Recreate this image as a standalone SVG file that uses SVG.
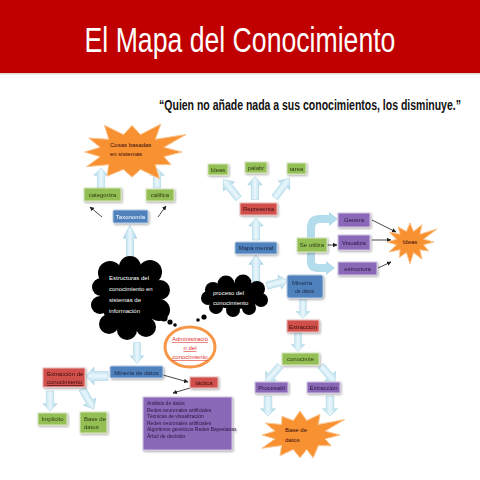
<svg xmlns="http://www.w3.org/2000/svg" xmlns:xlink="http://www.w3.org/1999/xlink" width="480" height="480" viewBox="0 0 480 480">
<defs>
<style>
text{font-family:"Liberation Sans",Arial,sans-serif;font-size:6px}
.c{text-anchor:middle}
.g{fill:#93bf55;stroke:#d7e6bf;stroke-width:1}
.b{fill:#4f81bd;stroke:#b9cde5;stroke-width:1}
.r{fill:#d0504c;stroke:#eab9b8;stroke-width:1}
.p{fill:#8a68b8;stroke:#d3c7e3;stroke-width:1}
.tg{fill:#2e3d12}
.tb{fill:#ffffff}
.td{fill:#1b2a48}
.tr{fill:#3a0d0c}
.tp{fill:#2a1640}
.tw{fill:#ffffff}
.star{fill:#f79132;stroke:#fbc58f;stroke-width:1}
.ln{stroke:#333;stroke-width:0.9;fill:none;marker-end:url(#ah)}
.blk{fill:url(#bg);stroke:#a9d3e3;stroke-width:0.6}
.cloud{fill:#000}
</style>
<linearGradient id="bg" x1="0" y1="0" x2="1" y2="0">
<stop offset="0" stop-color="#a8d5e6"/>
<stop offset="0.5" stop-color="#eaf7fc"/>
<stop offset="1" stop-color="#a8d5e6"/>
</linearGradient>
<filter id="sh" x="-20%" y="-20%" width="150%" height="160%">
<feDropShadow dx="1" dy="1.2" stdDeviation="0.8" flood-color="#000" flood-opacity="0.35"/>
</filter>
<marker id="ah" viewBox="0 0 10 10" refX="9" refY="5" markerWidth="5" markerHeight="5" orient="auto">
<path d="M0,0 L10,5 L0,10 Z" fill="#222"/>
</marker>
<path id="ua" d="M -4,11 L -4,-3 L -8,-3 L 0,-11 L 8,-3 L 4,-3 L 4,11 Z"/>
</defs>
<rect width="480" height="480" fill="#ffffff"/>
<g id="header">
<rect x="0" y="0" width="480" height="73" fill="#c00000"/>
<rect x="0" y="73" width="480" height="1.5" fill="#d9d9d9"/>
<g transform="translate(240,52) scale(0.74,1)">
<text x="0" y="0" class="c" style="font-size:36px;fill:#fff">El Mapa del Conocimiento</text>
</g>
</g>
<g id="quote">
<g transform="translate(310,110) scale(0.75,1)">
<text x="0" y="0" class="c" style="font-size:14px;font-weight:bold;fill:#111">“Quien no añade nada a sus conocimientos, los disminuye.”</text>
</g>
</g>
<g id="connectors">
<use xlink:href="#ua" class="blk" transform="translate(101,178) scale(0.9,0.9)"/>
<use xlink:href="#ua" class="blk" transform="translate(157,178) scale(0.9,0.9)"/>
<use xlink:href="#ua" class="blk" transform="translate(130,243) scale(0.85,1.6)"/>
<use xlink:href="#ua" class="blk" transform="translate(137,353) rotate(180) scale(0.85,0.95)"/>
<use xlink:href="#ua" class="blk" transform="translate(97,376) rotate(-90) scale(1.1,1)"/>
<use xlink:href="#ua" class="blk" transform="translate(50,401) rotate(180) scale(0.9,0.9)"/>
<use xlink:href="#ua" class="blk" transform="translate(88,399) rotate(150) scale(0.9,1.05)"/>
<use xlink:href="#ua" class="blk" transform="translate(231,189) rotate(-39) scale(0.9,1.1)"/>
<use xlink:href="#ua" class="blk" transform="translate(255,188) scale(0.9,1.05)"/>
<use xlink:href="#ua" class="blk" transform="translate(282,188) rotate(37) scale(0.9,1.1)"/>
<use xlink:href="#ua" class="blk" transform="translate(256,229) scale(0.9,1.0)"/>
<use xlink:href="#ua" class="blk" transform="translate(256,268) scale(0.9,1.2)"/>
<use xlink:href="#ua" class="blk" transform="translate(277,283) rotate(75) scale(0.9,0.95)"/>
<use xlink:href="#ua" class="blk" transform="translate(303,309) rotate(180) scale(0.85,0.85)"/>
<use xlink:href="#ua" class="blk" transform="translate(298,342) rotate(180) scale(0.85,0.85)"/>
<use xlink:href="#ua" class="blk" transform="translate(273,374) rotate(-139) scale(0.9,1.0)"/>
<use xlink:href="#ua" class="blk" transform="translate(328,374) rotate(139) scale(0.9,1.0)"/>
<use xlink:href="#ua" class="blk" transform="translate(268,406) rotate(180) scale(0.95,0.9)"/>
<use xlink:href="#ua" class="blk" transform="translate(330,406) rotate(180) scale(0.95,0.9)"/>
<path d="M 311 238 L 311 228 Q 311 219 320 219 L 329 219" fill="none" stroke="#b3dcec" stroke-width="8"/>
<path d="M 329 212 L 338 219 L 329 226 Z" fill="#b3dcec"/>
<path d="M 311 252 L 311 261 Q 311 268 318 268 L 326 268" fill="none" stroke="#b3dcec" stroke-width="8"/>
<path d="M 326 261 L 335 268 L 326 275 Z" fill="#b3dcec"/>
<line class="ln" x1="102" y1="217" x2="90" y2="207"/>
<line class="ln" x1="158" y1="217" x2="166" y2="206"/>
<line class="ln" x1="163" y1="375" x2="188" y2="382"/>
<line class="ln" x1="190" y1="388" x2="173" y2="393"/>
<line class="ln" x1="327" y1="245" x2="337" y2="245"/>
<line class="ln" x1="372" y1="220" x2="396" y2="232"/>
<line class="ln" x1="372" y1="240" x2="391" y2="240"/>
<line class="ln" x1="378" y1="268" x2="391" y2="262"/>
</g>
<g id="n-cosas">
<polygon class="star" points="182,152 163.9,156.7 171,164.6 155.3,164.7 159.5,178.7 140.5,169.4 132,177.2 123.5,169.4 107,176.2 108.7,164.7 86.5,166.7 100.1,156.7 84.5,152 100.1,147.3 88.7,138 108.7,139.3 104.5,125.3 123.5,134.6 132,125.4 140.5,134.6 160.8,124.1 155.3,139.3 186.1,134.5 163.9,147.3"/>
<text x="110" y="147" class="tr">Cosas basadas</text>
<text x="110" y="156" class="tr">en sistemas</text>
</g>
<g id="n-categoriza" filter="url(#sh)"><rect class="g" x="84" y="188" width="37" height="13"/><text x="102.5" y="197" class="c tg">categoriza</text></g>
<g id="n-califica" filter="url(#sh)"><rect class="g" x="146" y="189" width="28" height="12"/><text x="160" y="197" class="c tg">califica</text></g>
<g id="n-taxonomia" filter="url(#sh)"><rect class="b" x="113" y="210" width="35" height="13" rx="1.5"/><text x="130.5" y="218.5" class="c tb">Taxonomía</text></g>
<g id="n-estructuras">
<g class="cloud">
<ellipse cx="130" cy="298" rx="30" ry="32"/>
<circle cx="110" cy="273" r="12"/><circle cx="130" cy="267" r="11"/><circle cx="150" cy="272" r="12"/>
<circle cx="160" cy="290" r="10"/><circle cx="159" cy="310" r="11"/><circle cx="146" cy="327" r="10"/>
<circle cx="127" cy="330" r="10"/><circle cx="109" cy="324" r="10"/><circle cx="100" cy="305" r="9"/><circle cx="101" cy="287" r="9"/>
<circle cx="164" cy="318" r="3.6"/><circle cx="170" cy="322" r="2.6"/><circle cx="175" cy="325" r="1.8"/>
</g>
<text x="109" y="280" class="tw">Estructuras del</text>
<text x="109" y="291" class="tw">conocimiento en</text>
<text x="109" y="302" class="tw">sistemas de</text>
<text x="109" y="313" class="tw">información</text>
</g>
<g id="n-minleft" filter="url(#sh)"><rect class="b" x="110" y="366" width="53" height="12" rx="1.5"/><text x="136.5" y="374.5" class="c td">Minería de datos</text></g>
<g id="n-extraccion-con" filter="url(#sh)"><rect class="r" x="43" y="368" width="42" height="19"/><text x="47" y="376" class="tr">Extracción de</text><text x="47" y="384" class="tr" text-decoration="underline">conocimiento</text></g>
<g id="n-implicito" filter="url(#sh)"><rect class="g" x="38" y="413" width="29" height="12"/><text x="52.5" y="421" class="c tg">Implicito</text></g>
<g id="n-basedatos-l" filter="url(#sh)"><rect class="g" x="80" y="412" width="27" height="21"/><text x="84" y="421" class="tg">Base de</text><text x="84" y="429" class="tg">datos</text></g>
<g id="n-admin">
<ellipse cx="190" cy="347" rx="25" ry="20" fill="#fff" stroke="#f79646" stroke-width="3"/>
<text x="190" y="341" class="c" style="fill:#e0332c" text-decoration="underline">Administració</text>
<text x="190" y="350" class="c" style="fill:#e0332c" text-decoration="underline">n del</text>
<text x="190" y="359" class="c" style="fill:#e0332c" text-decoration="underline">conocimiento</text>
</g>
<g id="n-tactica" filter="url(#sh)"><rect class="r" x="190" y="377" width="28" height="11"/><text x="204" y="385" class="c tr">táctica</text></g>
<g id="n-tecnicas" filter="url(#sh)">
<rect class="p" x="143" y="397" width="89" height="53"/>
<text x="147" y="405" class="tp" style="font-size:5px">Análisis de datos</text>
<text x="147" y="411.5" class="tp" style="font-size:5px">Redes neuronales artificiales</text>
<text x="147" y="418" class="tp" style="font-size:5px">Técnicas de visualización</text>
<text x="147" y="424.5" class="tp" style="font-size:5px">Redes neuronales artificiales</text>
<text x="147" y="431" class="tp" style="font-size:5px">Algoritmos genéticos  Redes Bayesianas</text>
<text x="147" y="437.5" class="tp" style="font-size:5px">Árbol de decisión</text>
</g>
<g id="n-ideas-box" filter="url(#sh)"><rect class="g" x="208" y="164" width="20" height="11"/><text x="218" y="171.5" class="c tg">Ideas</text></g>
<g id="n-palabr" filter="url(#sh)"><rect class="g" x="245" y="162" width="22" height="11"/><text x="256" y="169.5" class="c tg">palabr</text></g>
<g id="n-tarea" filter="url(#sh)"><rect class="g" x="287" y="163" width="19" height="11"/><text x="296.5" y="170.5" class="c tg">tarea</text></g>
<g id="n-representa" filter="url(#sh)"><rect class="r" x="240" y="203" width="37" height="12"/><text x="258.5" y="211" class="c tr">Representa</text></g>
<g id="n-mapa" filter="url(#sh)"><rect class="b" x="235" y="242" width="42" height="12" rx="1.5"/><text x="256" y="250" class="c td">Mapa mental</text></g>
<g id="n-proceso">
<g class="cloud">
<ellipse cx="235" cy="296" rx="27" ry="13"/>
<circle cx="213" cy="290" r="8"/><circle cx="226" cy="284" r="8.5"/><circle cx="243" cy="283" r="8.5"/>
<circle cx="257" cy="289" r="8"/><circle cx="261" cy="300" r="7"/><circle cx="249" cy="308" r="7"/>
<circle cx="233" cy="310" r="7"/><circle cx="216" cy="307" r="7"/><circle cx="208" cy="298" r="7"/>
<circle cx="204" cy="317" r="2.6"/><circle cx="198" cy="320" r="1.8"/>
</g>
<text x="213" y="295" class="tw">proceso del</text>
<text x="213" y="305" class="tw">conocimiento</text>
</g>
<g id="n-seutiliza" filter="url(#sh)"><rect class="g" x="297" y="238" width="30" height="14"/><text x="312" y="247" class="c tg">Se utiliza</text></g>
<g id="n-genera" filter="url(#sh)"><rect class="p" x="338" y="213" width="32" height="14"/><text x="354" y="222" class="c tp">Genera</text></g>
<g id="n-visualiza" filter="url(#sh)"><rect class="p" x="338" y="235" width="32" height="15"/><text x="354" y="244.5" class="c tp">Visualiza</text></g>
<g id="n-estructura" filter="url(#sh)"><rect class="p" x="338" y="262" width="39" height="13"/><text x="357.5" y="270.5" class="c tp">estructura</text></g>
<g id="n-ideas-star">
<polygon class="star" points="434,242 423.5,244.8 428.7,251 419.9,249.8 422,259.3 413.6,252.6 410,264 406.4,252.6 399.2,257.6 400.1,249.8 389.2,252 396.5,244.8 387.2,242 396.5,239.2 389.2,232 400.1,234.2 398,226.8 406.4,231.4 410,223 413.6,231.4 422,224.7 419.9,234.2 437,229 423.5,239.2"/>
<text x="410" y="244" class="c tr">Ideas</text>
</g>
<g id="n-minright" filter="url(#sh)"><rect class="b" x="287" y="275" width="36" height="23" rx="2"/><text x="292" y="285" class="td">Minería</text><text x="295" y="293" class="td" style="font-size:5px">de datos</text></g>
<g id="n-extraccion-r" filter="url(#sh)"><rect class="r" x="287" y="320" width="32" height="12"/><text x="303" y="328.5" class="c tr">Extracción</text></g>
<g id="n-conocimie" filter="url(#sh)"><rect class="g" x="282" y="353" width="37" height="12"/><text x="300.5" y="361" class="c tg">conocimie</text></g>
<g id="n-procesabl" filter="url(#sh)"><rect class="p" x="255" y="382" width="33" height="11"/><text x="271.5" y="390" class="c tp">Procesabl</text></g>
<g id="n-extraccion-p" filter="url(#sh)"><rect class="p" x="307" y="382" width="33" height="11"/><text x="323.5" y="390" class="c tp">Extracción</text></g>
<g id="n-base-star">
<polygon class="star" points="340,435 325.1,438.9 331.2,445.8 318.4,445.6 313.2,457.9 306.7,449.5 300,457.8 293.3,449.5 280,455.8 281.6,445.6 261.9,448.2 274.9,438.9 262,435 274.9,431.1 265.4,423 281.6,424.4 282,416.3 293.3,420.5 300,411 306.7,420.5 320,414.2 318.4,424.4 345,419.4 325.1,431.1"/>
<text x="285" y="432" class="tr">Base de</text>
<text x="285" y="442" class="tr">datos</text>
</g>
</svg>
